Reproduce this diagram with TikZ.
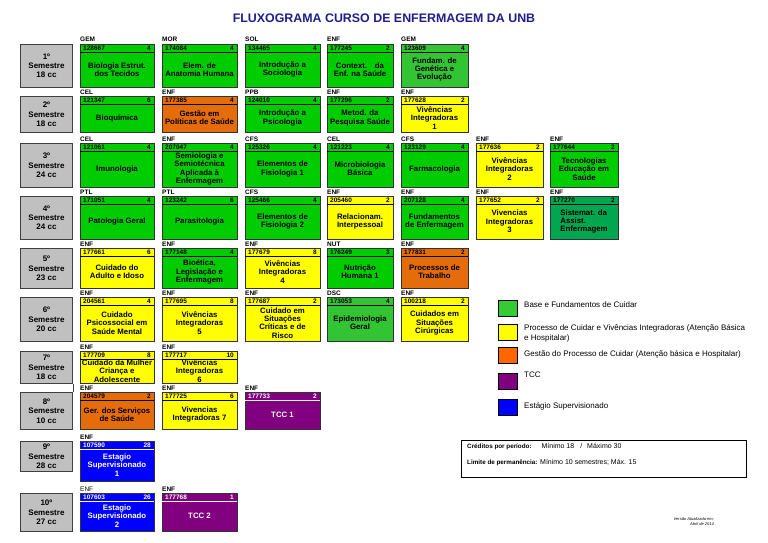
\documentclass[tikz,border=0pt]{standalone}
\usepackage{fontspec}
\setmainfont{Liberation Sans}
\usepackage{tikz}

\definecolor{verde}{RGB}{0,204,0}
\definecolor{verdeclaro}{RGB}{51,196,51}
\definecolor{verdeescuro}{RGB}{0,166,80}
\definecolor{amarelo}{RGB}{255,255,0}
\definecolor{laranja}{RGB}{228,108,10}
\definecolor{roxo}{RGB}{128,0,128}
\definecolor{azul}{RGB}{0,0,255}
\definecolor{cinza}{RGB}{192,192,192}
\definecolor{azultitulo}{RGB}{31,31,140}
\definecolor{legverde}{RGB}{51,204,51}
\definecolor{leglaranja}{RGB}{255,102,0}

\tikzset{
  caixa/.style={draw=black!80, line width=0.7pt, anchor=north west, inner sep=0pt, outer sep=0pt},
  semestre/.style={draw=black!75, line width=0.9pt, fill=cinza, anchor=north west, minimum width=52pt, inner sep=0pt, align=center, font=\fontsize{8}{9.3}\selectfont\bfseries},
  codigo/.style={inner sep=0pt, font=\fontsize{6.5}{7}\selectfont\bfseries},
  depto/.style={inner sep=0pt, anchor=base west, font=\fontsize{6.5}{7}\selectfont\bfseries},
  titulo/.style={inner sep=0pt, font=\fontsize{7.8}{8.3}\selectfont\bfseries},
  legenda/.style={draw=black, line width=0.6pt, minimum width=19pt, minimum height=16pt, anchor=north west, inner sep=0pt},
  textoleg/.style={anchor=west, inner sep=0pt, align=left, font=\fontsize{8}{10}\selectfont},
  textoinfo/.style={anchor=west, inner sep=0pt, font=\fontsize{7}{8}\selectfont},
}

\def\colL#1{\ifcase#1\or80\or162\or245\or327\or401\or476\or550\fi}
\def\colR#1{\ifcase#1\or154\or237\or320\or393\or468\or543\or618\fi}
\def\rowT#1{\ifcase#1\or44\or96\or143\or196\or248\or297\or351\or392\or441\or493\fi}
\def\rowB#1{\ifcase#1\or87\or132\or187\or239\or288\or341\or383\or429\or481\or531\fi}

% [alinhamento]{coluna}{linha}{cor}{cor do texto}{depto}{codigo}{creditos}{nome}
\newcommand{\disc}[9][center]{%
  \edef\xesq{\colL{#2}}\edef\xdir{\colR{#2}}%
  \edef\ytop{\rowT{#3}}\edef\ybot{\rowB{#3}}%
  \node[caixa, fill=#4, minimum width={(\xdir-\xesq)*1pt}, minimum height={(\ybot-\ytop)*1pt}] (c#3-#2) at (\xesq,\ytop) {};
  \draw[draw=#5, line width=0.8pt] ([yshift=-8pt]c#3-#2.north west) -- ([yshift=-8pt]c#3-#2.north east);
  \node[depto] (c#3-#2d) at ([yshift=2pt]c#3-#2.north west) {#6};
  \node[codigo, text=#5, anchor=west] (c#3-#2n) at ([xshift=3pt,yshift=-4pt]c#3-#2.north west) {#7};
  \node[codigo, text=#5, anchor=east] (c#3-#2k) at ([xshift=-3pt,yshift=-4pt]c#3-#2.north east) {#8};
  \node[titulo, text=#5, align=#1] (c#3-#2t) at ([yshift=-4pt]c#3-#2.center) {#9};
}

% {numero}{topo}{base}{creditos}
\newcommand{\semestre}[4]{%
  \node[semestre, minimum height={(#3-#2)*1pt}] (s#1) at (20,#2) {#1º\\Semestre\\#4 cc};
}

\begin{document}
\begin{tikzpicture}[x=1pt, y=-1pt]
\useasboundingbox (0,0) rectangle (768,543);

\node[font=\fontsize{12.4}{14}\selectfont\bfseries, text=azultitulo] (titulo) at (384,18) {FLUXOGRAMA CURSO DE ENFERMAGEM DA UNB};

\semestre{1}{44}{87}{18}
\semestre{2}{96}{132}{18}
\semestre{3}{143}{187}{24}
\semestre{4}{196}{239}{24}
\semestre{5}{248}{288}{23}
\semestre{6}{297}{341}{20}
\semestre{7}{351}{383}{18}
\semestre{8}{392}{429}{10}
\semestre{9}{441}{471}{28}
\semestre{10}{493}{531}{27}
\draw[black!75, line width=0.7pt] (s7.south east) -- (s8.north east);

\disc{1}{1}{verde}{black}{GEM}{128667}{4}{Biologia Estrut.\\dos Tecidos}
\disc{2}{1}{verde}{black}{MOR}{174084}{4}{Elem. de\\Anatomia Humana}
\disc{3}{1}{verde}{black}{SOL}{134465}{4}{Introdução a\\Sociologia}
\disc{4}{1}{verde}{black}{ENF}{177245}{2}{Context.\quad da\\Enf. na Saúde}
\disc{5}{1}{verdeclaro}{black}{GEM}{123609}{4}{Fundam. de\\Genética e\\Evolução}

\disc{1}{2}{verde}{black}{CEL}{121347}{6}{Bioquímica}
\disc{2}{2}{laranja}{black}{ENF}{177385}{4}{Gestão em\\Políticas de Saúde}
\disc{3}{2}{verde}{black}{PPB}{124010}{4}{Introdução a\\Psicologia}
\disc{4}{2}{verde}{black}{ENF}{177296}{2}{Metod. da\\Pesquisa Saúde}
\disc{5}{2}{amarelo}{black}{ENF}{177628}{2}{Vivências\\Integradoras\\1}

\disc{1}{3}{verde}{black}{CEL}{121061}{4}{Imunologia}
\disc{2}{3}{verde}{black}{ENF}{207047}{4}{Semiologia e\\Semiotécnica\\Aplicada à\\Enfermagem}
\disc{3}{3}{verde}{black}{CFS}{125326}{4}{Elementos de\\Fisiologia 1}
\disc{4}{3}{verde}{black}{CEL}{121223}{4}{Microbiologia\\Básica}
\disc{5}{3}{verde}{black}{CFS}{123129}{4}{Farmacologia}
\disc{6}{3}{amarelo}{black}{ENF}{177636}{2}{Vivências\\Integradoras\\2}
\disc{7}{3}{verde}{black}{ENF}{177644}{2}{Tecnologias\\Educação em\\Saúde}

\disc{1}{4}{verde}{black}{PTL}{171051}{4}{Patologia Geral}
\disc{2}{4}{verde}{black}{PTL}{123242}{6}{Parasitologia}
\disc{3}{4}{verde}{black}{CFS}{125466}{4}{Elementos de\\Fisiologia 2}
\disc{4}{4}{amarelo}{black}{ENF}{205460}{2}{Relacionam.\\Interpessoal}
\disc{5}{4}{verde}{black}{ENF}{207128}{4}{Fundamentos\\de Enfermagem}
\disc{6}{4}{amarelo}{black}{ENF}{177652}{2}{Vivencias\\Integradoras\\3}
\disc[left]{7}{4}{verdeescuro}{black}{ENF}{177270}{2}{Sistemat. da\\Assist.\\Enfermagem}

\disc{1}{5}{amarelo}{black}{ENF}{177661}{6}{Cuidado do\\Adulto e Idoso}
\disc{2}{5}{verde}{black}{ENF}{177148}{4}{Bioética,\\Legislação e\\Enfermagem}
\disc{3}{5}{amarelo}{black}{ENF}{177679}{8}{Vivências\\Integradoras\\4}
\disc{4}{5}{verde}{black}{NUT}{176249}{3}{Nutrição\\Humana 1}
\disc{5}{5}{laranja}{black}{ENF}{177831}{2}{Processos de\\Trabalho}

\disc{1}{6}{amarelo}{black}{ENF}{204561}{4}{Cuidado\\Psicossocial em\\Saúde Mental}
\disc{2}{6}{amarelo}{black}{ENF}{177695}{8}{Vivências\\Integradoras\\5}
\disc{3}{6}{amarelo}{black}{ENF}{177687}{2}{Cuidado em\\Situações\\Críticas e de\\Risco}
\disc{4}{6}{verdeclaro}{black}{DSC}{173053}{4}{Epidemiologia\\Geral}
\disc{5}{6}{amarelo}{black}{ENF}{100218}{2}{Cuidados em\\Situações\\Cirúrgicas}

\disc{1}{7}{amarelo}{black}{ENF}{177709}{8}{Cuidado da Mulher\\Criança e\\Adolescente}
\disc{2}{7}{amarelo}{black}{ENF}{177717}{10}{Vivências\\Integradoras\\6}

\disc{1}{8}{laranja}{black}{ENF}{204579}{2}{Ger. dos Serviços\\de Saúde}
\disc{2}{8}{amarelo}{black}{ENF}{177725}{6}{Vivencias\\Integradoras 7}
\disc{3}{8}{roxo}{white}{ENF}{177733}{2}{TCC 1}

\disc{1}{9}{azul}{white}{ENF}{107590}{28}{Estagio\\Supervisionado\\1}

\disc{1}{10}{azul}{white}{{\mdseries ENF}}{107603}{26}{Estagio\\Supervisionado\\2}
\disc{2}{10}{roxo}{white}{ENF}{177768}{1}{TCC 2}

\node[legenda, fill=legverde] (l1) at (498,300) {};
\node[legenda, fill=amarelo] (l2) at (498,324) {};
\node[legenda, fill=leglaranja] (l3) at (498,347) {};
\node[legenda, fill=roxo] (l4) at (498,373) {};
\node[legenda, fill=azul] (l5) at (498,399) {};
\node[textoleg] (t1) at (524,305) {Base e Fundamentos de Cuidar};
\node[textoleg] (t2) at (524,333) {Processo de Cuidar e Vivências Integradoras (Atenção Básica\\e Hospitalar)};
\node[textoleg] (t3) at (524,354) {Gestão do Processo de Cuidar (Atenção básica e Hospitalar)};
\node[textoleg] (t4) at (524,375) {TCC};
\node[textoleg] (t5) at (524,406) {Estágio Supervisionado};

\node[draw, line width=1pt, anchor=north west, minimum width=285pt, minimum height=37pt, inner sep=0pt] (info) at (461,440) {};
\node[textoinfo] (i1) at (467,447) {{\fontsize{6.3}{7}\selectfont\bfseries Créditos por período:}\hspace{10pt}Mínimo 18\hspace{6pt}/\hspace{5pt}Máximo 30};
\node[textoinfo] (i2) at (467,463) {{\fontsize{6.3}{7}\selectfont\bfseries Limite de permanência:} Mínimo 10 semestres; Máx. 15};

\node[anchor=north east, align=right, inner sep=0pt, font=\fontsize{4}{5}\selectfont\itshape] (versao) at (714,517) {Versão Atualizada em:\\Abril de 2014};
\end{tikzpicture}
\end{document}
